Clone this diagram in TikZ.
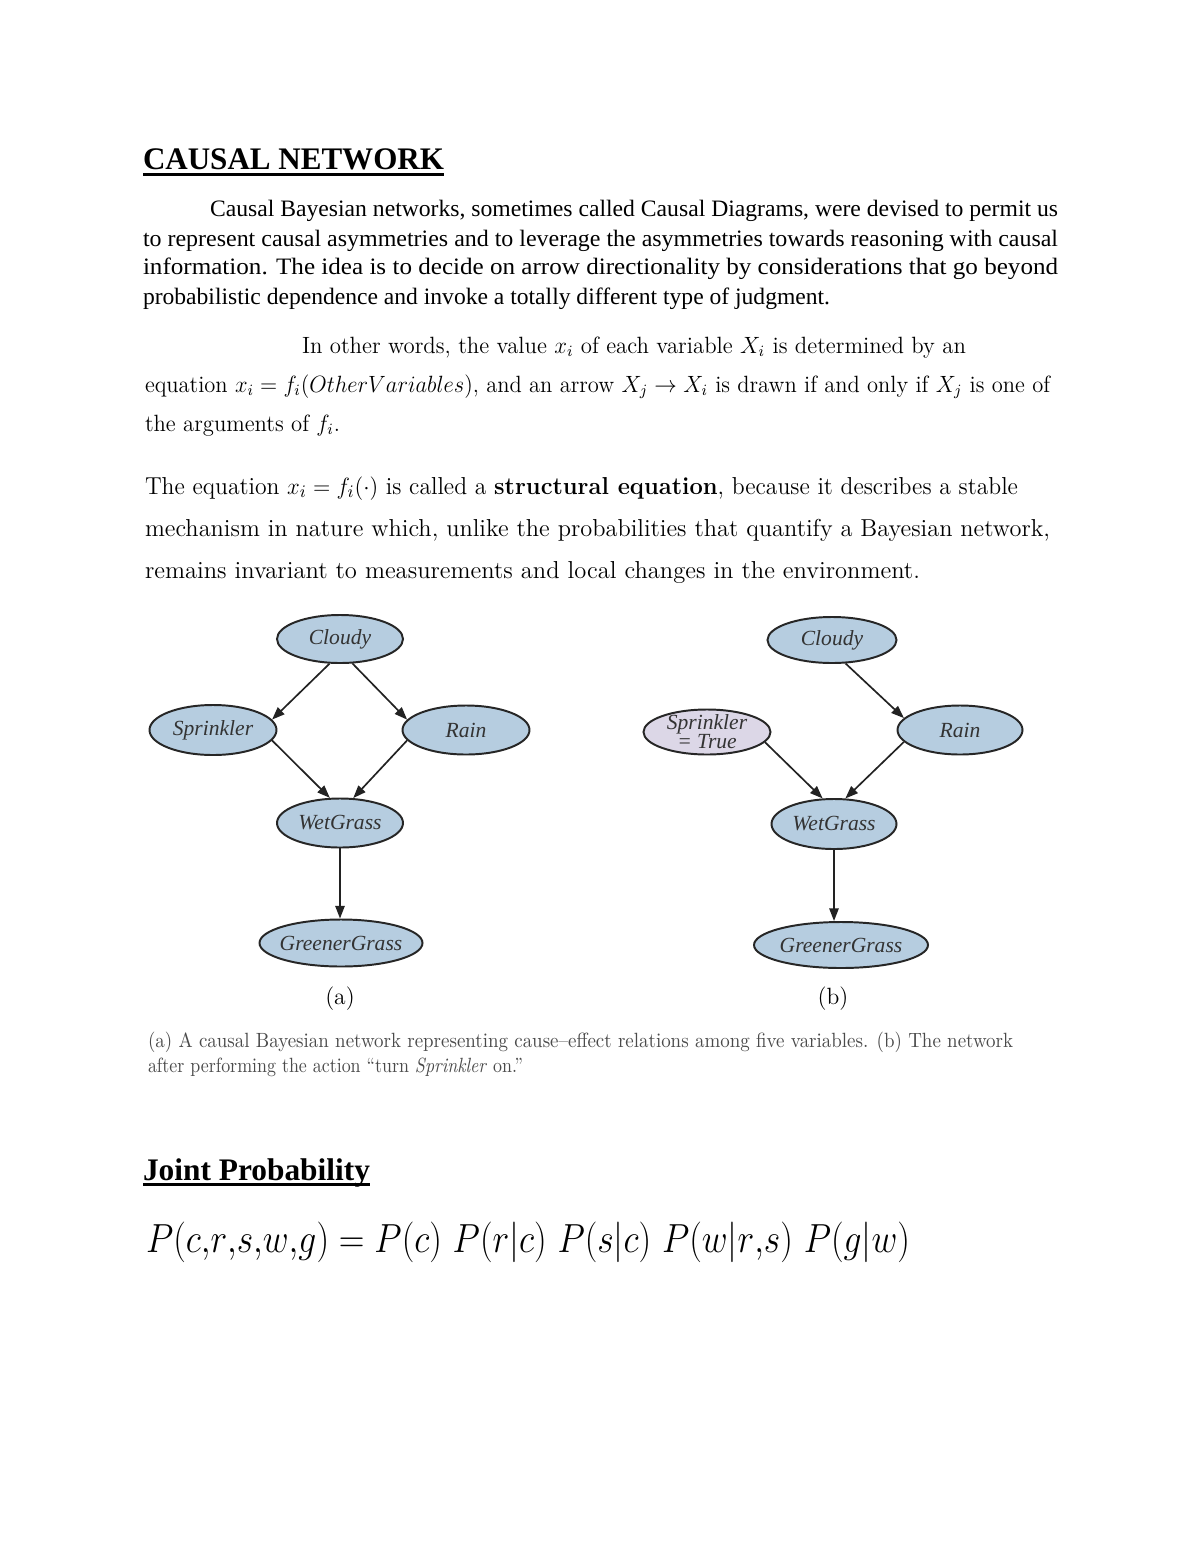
\documentclass[tikz,border=0pt]{standalone}
\usepackage{fontspec}
\usepackage{graphicx}
\usetikzlibrary{shapes.geometric,arrows.meta}
\newfontfamily\timesf{Liberation Serif}
\newlength\pxu
\setlength\pxu{0.51pt}
\definecolor{nodeblue}{HTML}{B6CDE0}
\definecolor{nodelav}{HTML}{DCD7E7}
\definecolor{capgray}{HTML}{4A4A4A}
\definecolor{edgegray}{HTML}{222222}
\newcommand\tl[5]{\node[txt] (#1) at (#2,#3) {\resizebox{#4\pxu}{\height}{#5}};}
\begin{document}
\begin{tikzpicture}[x=0.51pt,y=-0.51pt,
  txt/.style={anchor=base west,inner sep=0pt,outer sep=0pt},
  uline/.style={line width=1.4pt,black},
  bnode/.style={ellipse,draw=black!85,line width=1pt,fill=nodeblue,
    inner xsep=-20pt,inner ysep=-5pt,
    font=\timesf\itshape\fontsize{11}{9.6}\selectfont,text=black!80},
  lav/.style={fill=nodelav},
  esize/.style 2 args={minimum width=#1*0.51pt,minimum height=#2*0.51pt},
  edge/.style={draw=edgegray,line width=0.85pt,-{Triangle[length=6.5pt,width=4.8pt]}},
  body/.style={font=\fontsize{12}{14}\selectfont}
]
\useasboundingbox[fill=white] (0,0) rectangle (1200,1553);

% ---- heading
\tl{h1}{143}{170}{301}{\timesf\bfseries\fontsize{16}{19}\selectfont CAUSAL NETWORK}
\draw[uline] ([yshift=-2.2pt]h1.base west) -- ([yshift=-2.2pt]h1.base east);

% ---- paragraph 1 (Times)
\tl{p1}{210}{217}{848}{\timesf\fontsize{12}{14}\selectfont Causal Bayesian networks, sometimes called Causal Diagrams, were devised to permit us}
\tl{p2}{143}{246}{915}{\timesf\fontsize{12}{14}\selectfont to represent causal asymmetries and to leverage the asymmetries towards reasoning with causal}
\tl{p3}{143}{275}{915}{\timesf\fontsize{12}{14}\selectfont information. The idea is to decide on arrow directionality by considerations that go beyond}
\tl{p4}{143}{304}{687}{\timesf\fontsize{12}{14}\selectfont probabilistic dependence and invoke a totally different type of judgment.}

% ---- paragraph 2
\tl{q1}{302}{353}{664}{\fontsize{12}{14}\selectfont In other words, the value $x_i$ of each variable $X_i$ is determined by an}
\tl{q2}{145}{392}{905}{\fontsize{12}{14}\selectfont equation $x_i = f_i(OtherVariables)$, and an arrow $X_j \rightarrow X_i$ is drawn if and only if $X_j$ is one of}
\tl{q3}{145}{431}{195}{\fontsize{12}{14}\selectfont the arguments of $f_i$.}

% ---- paragraph 3
\tl{r1}{145}{494}{873}{\fontsize{12.5}{14}\selectfont The equation $x_i = f_i(\cdot)$ is called a \textbf{structural equation}, because it describes a stable}
\tl{r2}{145}{536}{905}{\fontsize{12.5}{14}\selectfont mechanism in nature which, unlike the probabilities that quantify a Bayesian network,}
\tl{r3}{145}{578}{775}{\fontsize{12.5}{14}\selectfont remains invariant to measurements and local changes in the environment.}

% ---- network (a)
\node[bnode,esize={126}{48}] (ca) at (340,639) {Cloudy};
\node[bnode,esize={127}{50}] (sa) at (213,730) {Sprinkler};
\node[bnode,esize={127}{49}] (ra) at (466,730) {Rain};
\node[bnode,esize={126}{49}] (wa) at (340,823) {WetGrass};
\node[bnode,esize={163}{47}] (ga) at (341,943) {GreenerGrass};
\draw[edge] (ca.247) -- (sa.10);
\draw[edge] (ca.297) -- (ra.170);
\draw[edge] (sa.350) -- (wa.112);
\draw[edge] (ra.190) -- (wa.62);
\draw[edge] (wa.south) -- (wa.south |- ga.north);

% ---- network (b)
\node[bnode,esize={129}{46}] (cb) at (832,640) {Cloudy};
\node[bnode,lav,esize={127}{45},align=center] (sb) at (707,732) {Sprinkler\\= True};
\node[bnode,esize={125}{49}] (rb) at (960,730) {Rain};
\node[bnode,esize={125}{50}] (wb) at (834,824) {WetGrass};
\node[bnode,esize={174}{46}] (gb) at (841,945) {GreenerGrass};
\draw[edge] (cb.300) -- (rb.168);
\draw[edge] (sb.350) -- (wb.114);
\draw[edge] (rb.192) -- (wb.66);
\draw[edge] (wb.south) -- (wb.south |- gb.north);

% ---- sub labels and caption
\node[anchor=base,inner sep=0pt,body] (la) at (340,1004) {(a)};
\node[anchor=base,inner sep=0pt,body] (lb) at (833,1004) {(b)};
\tl{c1}{148}{1047}{865}{\color{capgray}\fontsize{10.5}{12}\selectfont (a) A causal Bayesian network representing cause--effect relations among five variables. (b) The network}
\tl{c2}{148}{1072}{375}{\color{capgray}\fontsize{10.5}{12}\selectfont after performing the action ``turn \textit{Sprinkler} on.''}

% ---- joint probability
\tl{j1}{143}{1180}{227}{\timesf\bfseries\fontsize{16}{19}\selectfont Joint Probability}
\draw[uline] ([yshift=-2.2pt]j1.base west) -- ([yshift=-2.2pt]j1.base east);
\tl{e1}{146}{1252}{764}{\fontsize{20.74}{25}\selectfont $P(c{,}r{,}s{,}w{,}g) = P(c)\ P(r|c)\ P(s|c)\ P(w|r{,}s)\ P(g|w)$}
\end{tikzpicture}
\end{document}
